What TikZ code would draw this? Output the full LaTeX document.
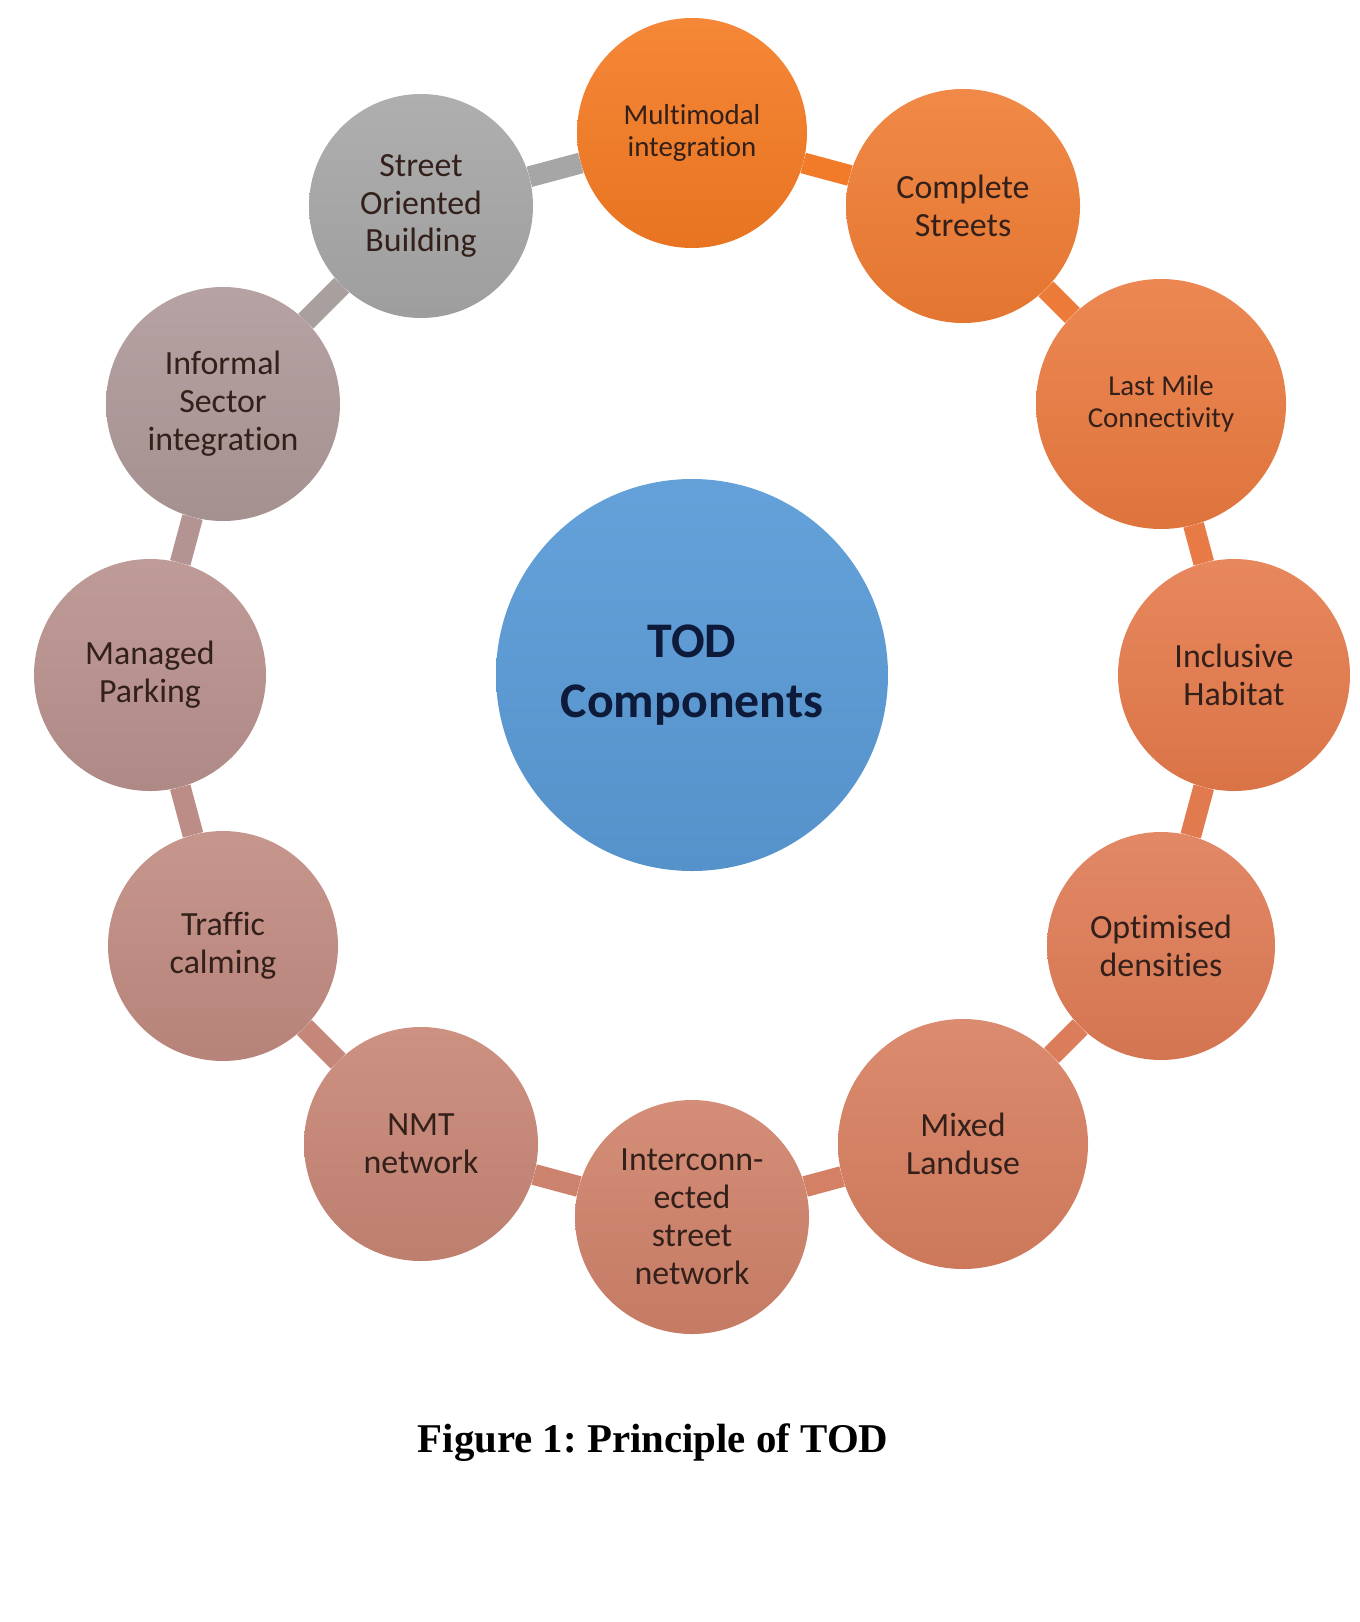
\documentclass[tikz,border=0pt]{standalone}
\usepackage{fontspec}
\setmainfont{Liberation Serif}
\newfontfamily\calib[Ligatures=NoCommon]{Carlito}
\usetikzlibrary{backgrounds}
\definecolor{ca}{HTML}{F47A22}
\definecolor{cb}{HTML}{EF7C33}
\definecolor{cc}{HTML}{EA7A40}
\definecolor{cd}{HTML}{E57A4B}
\definecolor{ce}{HTML}{DF7B55}
\definecolor{cf}{HTML}{D77E5F}
\definecolor{cg}{HTML}{CF8169}
\definecolor{ch}{HTML}{C78574}
\definecolor{ci}{HTML}{C08A80}
\definecolor{cj}{HTML}{B8908C}
\definecolor{ck}{HTML}{AE9898}
\definecolor{cl}{HTML}{A6A6A6}
\definecolor{hubc}{HTML}{5B9BD7}
\definecolor{txt}{HTML}{33201A}
\definecolor{hubtxt}{HTML}{0E1A3A}
\tikzset{
  comp/.style 2 args={circle, draw=none, inner sep=0pt, align=center, text=txt,
    minimum size=#1, top color=#2!90!white, bottom color=#2!95!black,
    font=\calib\fontsize{34}{38}\selectfont},
  hub/.style={circle, draw=none, inner sep=0pt, align=center, text=hubtxt,
    minimum size=392bp, top color=hubc!94!white, bottom color=hubc!94!black,
    font=\calib\bfseries\fontsize{50}{60}\selectfont},
  link/.style={line width=21bp},
  caption/.style={font=\bfseries\fontsize{41}{48}\selectfont, text=black, inner sep=0pt}
}
\frenchspacing
\begin{document}
\begin{tikzpicture}[x=1bp,y=-1bp]
\useasboundingbox (0,0) rectangle (1360,1622);
\node[hub] (tod) at (692,675) {TOD\\Components};
\node[comp={230bp}{ca}, font=\calib\fontsize{29}{33}\selectfont] (n1) at (692,133) {Multimodal\\integration};
\node[comp={234bp}{cb}] (n2) at (963,206) {Complete\\Streets};
\node[comp={250bp}{cc}, font=\calib\fontsize{29}{32}\selectfont] (n3) at (1161,404) {Last Mile\\Connectivity};
\node[comp={232bp}{cd}] (n4) at (1234,675) {Inclusive\\Habitat};
\node[comp={228bp}{ce}] (n5) at (1161,946) {Optimised\\densities};
\node[comp={250bp}{cf}] (n6) at (963,1144) {Mixed\\Landuse};
\node[comp={234bp}{cg}] (n7) at (692,1217) {Interconn-\\ected\\street\\network};
\node[comp={234bp}{ch}] (n8) at (421,1144) {NMT\\network};
\node[comp={230bp}{ci}] (n9) at (223,946) {Traffic\\calming};
\node[comp={232bp}{cj}] (n10) at (150,675) {Managed\\Parking};
\node[comp={234bp}{ck}] (n11) at (223,404) {Informal\\Sector\\integration};
\node[comp={224bp}{cl}] (n12) at (421,206) {Street\\Oriented\\Building};
\begin{scope}[on background layer]
\draw[link, ca!60!cb] (n1) -- (n2);
\draw[link, cb!50!cc] (n2) -- (n3);
\draw[link, cc!50!cd] (n3) -- (n4);
\draw[link, cd!50!ce] (n4) -- (n5);
\draw[link, ce!50!cf] (n5) -- (n6);
\draw[link, cf!50!cg] (n6) -- (n7);
\draw[link, cg!50!ch] (n7) -- (n8);
\draw[link, ch!50!ci] (n8) -- (n9);
\draw[link, ci!50!cj] (n9) -- (n10);
\draw[link, cj!50!ck] (n10) -- (n11);
\draw[link, ck!50!cl] (n11) -- (n12);
\draw[link, cl] (n12) -- (n1);
\end{scope}
\node[caption, anchor=base] (cap) at (653,1452) {Figure 1: Principle of TOD};
\end{tikzpicture}
\end{document}
